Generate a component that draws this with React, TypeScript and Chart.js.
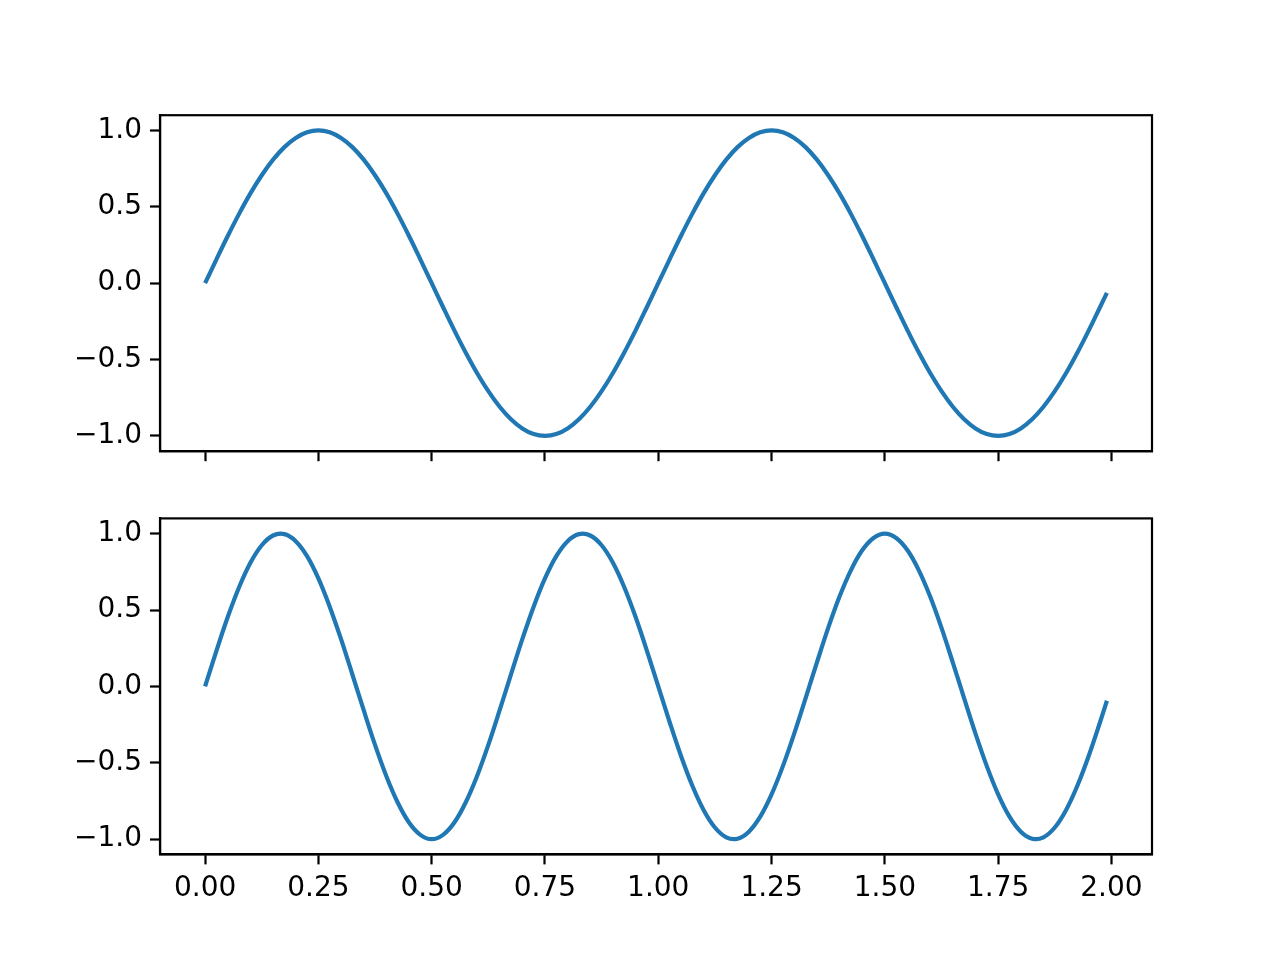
import React, { useEffect, useRef } from 'react';
import { Chart, registerables, Plugin } from 'chart.js';

Chart.register(...registerables);

// sample times (step 0.025, last one at 1.99)
const times: number[] = [
  0, 0.025, 0.05, 0.075, 0.1, 0.125, 0.15, 0.175, 0.2, 0.225,
  0.25, 0.275, 0.3, 0.325, 0.35, 0.375, 0.4, 0.425, 0.45, 0.475,
  0.5, 0.525, 0.55, 0.575, 0.6, 0.625, 0.65, 0.675, 0.7, 0.725,
  0.75, 0.775, 0.8, 0.825, 0.85, 0.875, 0.9, 0.925, 0.95, 0.975,
  1, 1.025, 1.05, 1.075, 1.1, 1.125, 1.15, 1.175, 1.2, 1.225,
  1.25, 1.275, 1.3, 1.325, 1.35, 1.375, 1.4, 1.425, 1.45, 1.475,
  1.5, 1.525, 1.55, 1.575, 1.6, 1.625, 1.65, 1.675, 1.7, 1.725,
  1.75, 1.775, 1.8, 1.825, 1.85, 1.875, 1.9, 1.925, 1.95, 1.975,
  1.99,
];

// upper panel: two full waves
const topValues: number[] = [
  0, 0.156, 0.309, 0.454, 0.588, 0.707, 0.809, 0.891, 0.951, 0.988,
  1, 0.988, 0.951, 0.891, 0.809, 0.707, 0.588, 0.454, 0.309, 0.156,
  0, -0.156, -0.309, -0.454, -0.588, -0.707, -0.809, -0.891, -0.951, -0.988,
  -1, -0.988, -0.951, -0.891, -0.809, -0.707, -0.588, -0.454, -0.309, -0.156,
  0, 0.156, 0.309, 0.454, 0.588, 0.707, 0.809, 0.891, 0.951, 0.988,
  1, 0.988, 0.951, 0.891, 0.809, 0.707, 0.588, 0.454, 0.309, 0.156,
  0, -0.156, -0.309, -0.454, -0.588, -0.707, -0.809, -0.891, -0.951, -0.988,
  -1, -0.988, -0.951, -0.891, -0.809, -0.707, -0.588, -0.454, -0.309, -0.156,
  -0.063,
];

// lower panel: three full waves
const bottomValues: number[] = [
  0, 0.233, 0.454, 0.649, 0.809, 0.924, 0.988, 0.997, 0.951, 0.853,
  0.707, 0.522, 0.309, 0.078, -0.156, -0.383, -0.588, -0.760, -0.891, -0.972,
  -1, -0.972, -0.891, -0.760, -0.588, -0.383, -0.156, 0.078, 0.309, 0.522,
  0.707, 0.853, 0.951, 0.997, 0.988, 0.924, 0.809, 0.649, 0.454, 0.233,
  0, -0.233, -0.454, -0.649, -0.809, -0.924, -0.988, -0.997, -0.951, -0.853,
  -0.707, -0.522, -0.309, -0.078, 0.156, 0.383, 0.588, 0.760, 0.891, 0.972,
  1, 0.972, 0.891, 0.760, 0.588, 0.383, 0.156, -0.078, -0.309, -0.522,
  -0.707, -0.853, -0.951, -0.997, -0.988, -0.924, -0.809, -0.649, -0.454, -0.233,
  -0.094,
];

const xTicks: number[] = [0, 0.25, 0.5, 0.75, 1, 1.25, 1.5, 1.75, 2];
const yTicks: number[] = [-1, -0.5, 0, 0.5, 1];

const LINE_COLOR = '#1f77b4';
const FONT = { family: "'DejaVu Sans', sans-serif", size: 28 };

// draws the full box around the plot area, like matplotlib spines
const frameBox: Plugin = {
  id: 'frameBox',
  afterDraw(chart) {
    const { ctx, chartArea } = chart;
    ctx.save();
    ctx.strokeStyle = '#000';
    ctx.lineWidth = 2.2;
    ctx.strokeRect(chartArea.left, chartArea.top, chartArea.right - chartArea.left, chartArea.bottom - chartArea.top);
    ctx.restore();
  },
};

interface PanelProps {
  values: number[];
  showXLabels: boolean;
  padTop: number;
  xAxisHeight: number;
}

const Panel: React.FC<PanelProps> = ({ values, showXLabels, padTop, xAxisHeight }) => {
  const canvasRef = useRef<HTMLCanvasElement | null>(null);

  useEffect(() => {
    if (!canvasRef.current) return;
    const points = times.map((t, i) => ({ x: t, y: values[i] }));

    const chart = new Chart(canvasRef.current, {
      type: 'line',
      data: {
        datasets: [{
          data: points,
          borderColor: LINE_COLOR,
          borderWidth: 4.2,
          pointRadius: 0,
          tension: 0.35,
          fill: false,
        }],
      },
      options: {
        animation: false,
        responsive: false,
        layout: { padding: { top: padTop, right: 128, bottom: 0, left: 0 } },
        plugins: { legend: { display: false }, tooltip: { enabled: false } },
        scales: {
          x: {
            type: 'linear',
            min: -0.0995,
            max: 2.0895,
            afterBuildTicks: (axis) => { axis.ticks = xTicks.map((v) => ({ value: v })); },
            afterFit: (axis) => { axis.height = xAxisHeight; },
            grid: { drawOnChartArea: false, drawTicks: true, tickLength: 10, tickWidth: 2.2, tickColor: '#000' },
            border: { display: true, color: '#000', width: 2.2 },
            ticks: {
              display: showXLabels,
              color: '#000',
              font: FONT,
              padding: 8,
              maxRotation: 0,
              autoSkip: false,
              callback: (v) => Number(v).toFixed(2),
            },
          },
          y: {
            type: 'linear',
            min: -1.1,
            max: 1.1,
            afterBuildTicks: (axis) => { axis.ticks = yTicks.map((v) => ({ value: v })); },
            afterFit: (axis) => { axis.width = 160; },
            grid: { drawOnChartArea: false, drawTicks: true, tickLength: 10, tickWidth: 2.2, tickColor: '#000' },
            border: { display: true, color: '#000', width: 2.2 },
            ticks: {
              color: '#000',
              font: FONT,
              padding: 8,
              autoSkip: false,
              callback: (v) => Number(v).toFixed(1).replace('-', '\u2212'),
            },
          },
        },
      },
      plugins: [frameBox],
    });

    return () => {
      chart.destroy();
    };
  }, [values, showXLabels, padTop, xAxisHeight]);

  return <canvas ref={canvasRef} width={1280} height={480} style={{ display: 'block' }} />;
};

export default function App() {
  return (
    <div style={{ position: 'absolute', left: 0, top: 0, width: 1280, height: 960, background: '#fff' }}>
      <Panel values={topValues} showXLabels={false} padTop={115.2} xAxisHeight={28.8} />
      <Panel values={bottomValues} showXLabels={true} padTop={38.4} xAxisHeight={105.6} />
    </div>
  );
}
